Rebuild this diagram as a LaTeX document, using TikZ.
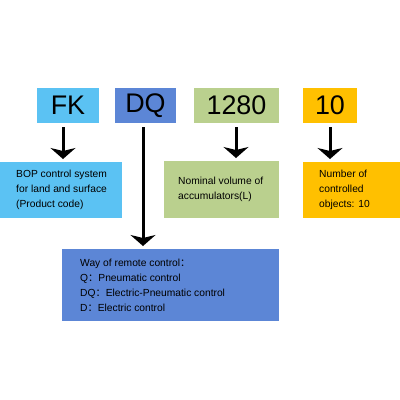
\documentclass[tikz,border=0pt]{standalone}
\usepackage{fontspec}
\setmainfont{Liberation Sans}
\newfontfamily\cjk{Noto Sans CJK SC}
\usetikzlibrary{arrows.meta}
\definecolor{cLB}{RGB}{91,194,243}
\definecolor{cDB}{RGB}{92,134,214}
\definecolor{cGR}{RGB}{186,208,142}
\definecolor{cOR}{RGB}{255,192,0}
\begin{document}
\begin{tikzpicture}[x=1bp,y=-1bp,
  code/.style={inner sep=0, minimum height=35bp, font=\fontsize{27}{27}\selectfont, text=black},
  panel/.style={inner sep=0, anchor=north west},
  desc/.style={inner sep=0, anchor=west, align=left, font=\fontsize{10.3}{15}\selectfont, text=black},
  arr/.style={line width=3bp, shorten >=3bp, -{Stealth[length=11bp,width=25bp,inset=3bp]}}
]
\useasboundingbox (0,0) rectangle (400,400);
\fill[white] (0,0) rectangle (400,400);
% code boxes
\node[code, fill=cLB, minimum width=62bp] (fk) at (68,105.5) {FK};
\node[code, fill=cDB, minimum width=61bp] (dq) at (145.5,105.5) {DQ};
\node[code, fill=cGR, minimum width=85bp] (vol) at (236.5,105.5) {1280};
\node[code, fill=cOR, minimum width=54bp] (num) at (330,105.5) {10};
% description panels
\node[panel, fill=cLB, minimum width=122bp, minimum height=56bp] (fkd) at (0,162) {};
\node[panel, fill=cGR, minimum width=115bp, minimum height=57bp] (vold) at (164,161) {};
\node[panel, fill=cOR, minimum width=97bp, minimum height=56bp] (numd) at (303,162) {};
\node[panel, fill=cDB, minimum width=217bp, minimum height=72bp] (dqd) at (62,249) {};
% texts
\node[desc] (fkt) at (16,190) {BOP control system\\for land and surface\\(Product code)};
\node[desc] (volt) at (178,189.5) {Nominal volume of\\accumulators(L)};
\node[desc] (numt) at (319,190) {Number of\\controlled\\objects: 10};
\node[desc] (dqt) at (80,285.5) {Way of remote control{\cjk ：}\\Q{\cjk ：}Pneumatic control\\DQ{\cjk ：}Electric-Pneumatic control\\D{\cjk ：}Electric control};
% connectors
\coordinate (a1) at ([xshift=-5bp,yshift=-4bp]fk.south);
\coordinate (a2) at ([xshift=-2.5bp,yshift=-4bp]dq.south);
\coordinate (a3) at ([xshift=-0.5bp,yshift=-4bp]vol.south);
\coordinate (a4) at ([yshift=-4bp]num.south);
\draw[arr] (a1) -- (a1 |- fkd.north);
\draw[arr] (a2) -- (a2 |- dqd.north);
\draw[arr] (a3) -- (a3 |- vold.north);
\draw[arr] (a4) -- (a4 |- numd.north);
\end{tikzpicture}
\end{document}
